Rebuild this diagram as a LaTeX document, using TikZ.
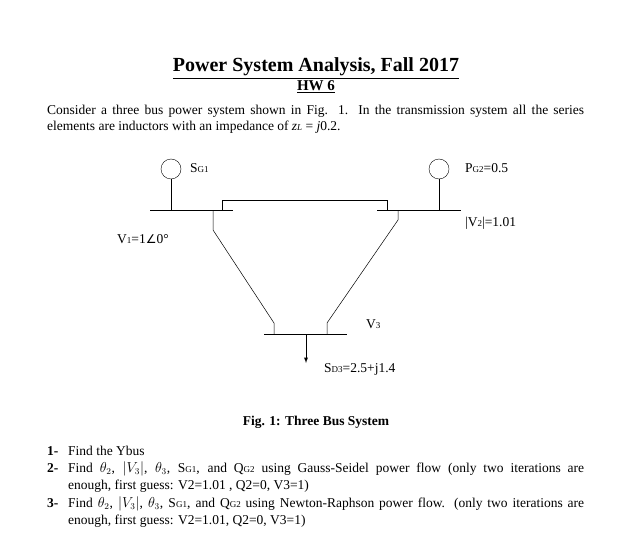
\documentclass[tikz,border=0pt]{standalone}
\usepackage{fontspec}
\setmainfont{Liberation Serif}
\newfontfamily\djv{DejaVu Sans}
\newcommand{\sm}[1]{{\fontsize{9}{10}\selectfont #1}}
\begin{document}
\begin{tikzpicture}[x=1pt,y=-1pt,
  txt/.style={anchor=base west,inner sep=0pt,font=\fontsize{13.5}{16}\selectfont},
  wire/.style={line width=0.9pt},
  tline/.style={line width=0.5pt},
  gen/.style={circle,draw,line width=0.4pt,minimum size=20pt,inner sep=0pt}]
\useasboundingbox (0,0) rectangle (617,545);
\fill[white] (0,0) rectangle (617,545);
\node[anchor=base,inner sep=0pt,font=\fontsize{20}{24}\selectfont\bfseries] (title) at (316,72) {\underline{Power System Analysis, Fall 2017}};
\node[anchor=base,inner sep=0pt,font=\fontsize{15}{18}\selectfont\bfseries] (hw) at (316,91) {\underline{HW 6}};
\node[anchor=north west,inner sep=0pt,text width=537pt,align=justify,font=\fontsize{13.5}{16}\selectfont] (para) at (47,105) {Consider a three bus power system shown in Fig. 1. In the transmission system all the series\linebreak elements are inductors with an impedance of \textit{z\sm{L}} = \textit{j}0.2.};
% buses
\coordinate (b1l) at (150,210); \coordinate (b1r) at (233,210);
\coordinate (b2l) at (377,210); \coordinate (b2r) at (461,210);
\coordinate (b3l) at (264,334); \coordinate (b3r) at (347,334);
\draw[wire] (b1l) -- (b1r); \draw[wire] (b2l) -- (b2r); \draw[wire] (b3l) -- (b3r);
\node[gen] (g1) at (171,169) {};
\node[gen] (g2) at (439,169) {};
\draw[wire] (g1.south) -- (171,210);
\draw[wire] (g2.south) -- (439,210);
\draw[wire] (222,210) -- (222,200) -- (387,200) -- (387,210);
\draw[tline] (213,210) -- (213,230) -- (274,323) -- (274,334);
\draw[tline] (398,210) -- (398,220) -- (327,323) -- (327,334);
\coordinate (ld) at (306,363);
\draw[wire,-latex] (306,334) -- (ld);
\node[txt] (sg1) at (190,173) {S\sm{G1}};
\node[txt] (pg2) at (465,173) {P\sm{G2}=0.5};
\node[txt] (v2) at (465,226) {|V\sm{2}|=1.01};
\node[txt] (v1) at (117,243) {V\sm{1}=1{\djv\fontsize{12}{14}\selectfont∠}0°};
\node[txt] (v3) at (366,328) {V\sm{3}};
\node[txt] (sd3) at (324,372) {S\sm{D3}=2.5+j1.4};
\node[anchor=base,inner sep=0pt,font=\fontsize{13.5}{16}\selectfont\bfseries] (cap) at (316,425) {Fig. 1: Three Bus System};
\node[txt] (n1) at (47,455) {\textbf{1-}};
\node[txt] (i1) at (68,455) {Find the Ybus};
\node[txt] (n2) at (47,472) {\textbf{2-}};
\node[anchor=north west,inner sep=0pt,text width=516pt,align=justify,font=\fontsize{13.5}{17.5}\selectfont] (i2) at (68,461) {Find $\theta_2$, $|V_3|$, $\theta_3$, S\sm{G1}, and Q\sm{G2} using Gauss-Seidel power flow (only two iterations are\linebreak enough, first guess: V2=1.01 , Q2=0, V3=1)};
\node[txt] (n3) at (47,507) {\textbf{3-}};
\node[anchor=north west,inner sep=0pt,text width=516pt,align=justify,font=\fontsize{13.5}{17.5}\selectfont] (i3) at (68,496) {Find $\theta_2$, $|V_3|$, $\theta_3$, S\sm{G1}, and Q\sm{G2} using Newton-Raphson power flow. (only two iterations are\linebreak enough, first guess: V2=1.01, Q2=0, V3=1)};
\end{tikzpicture}
\end{document}
